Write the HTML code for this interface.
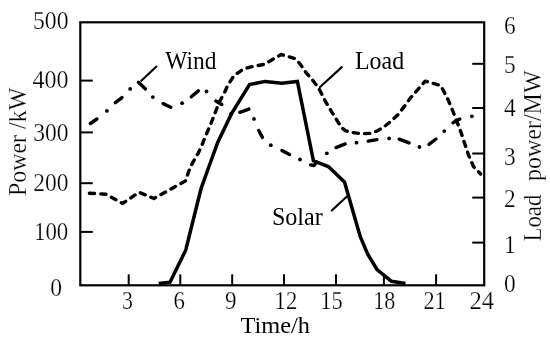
<!DOCTYPE html>
<html><head><meta charset="utf-8"><title>Power curves</title>
<style>html,body{margin:0;padding:0;background:#fff}svg{display:block}text{font-family:"Liberation Serif",serif;fill:#000}</style></head><body>
<svg width="550" height="339" viewBox="0 0 550 339">
<rect width="550" height="339" fill="#fff"/>
<rect x="80.3" y="22.3" width="403.9" height="263.0" fill="none" stroke="#000" stroke-width="2.2"/>
<g stroke="#000" stroke-width="2" fill="none">
<line x1="80.3" y1="80.6" x2="92.8" y2="80.6"/>
<line x1="80.3" y1="132.4" x2="92.8" y2="132.4"/>
<line x1="80.3" y1="183.2" x2="92.8" y2="183.2"/>
<line x1="80.3" y1="231.9" x2="92.8" y2="231.9"/>
<line x1="484.2" y1="63.8" x2="472.2" y2="63.8"/>
<line x1="484.2" y1="108" x2="472.2" y2="108"/>
<line x1="484.2" y1="153.5" x2="472.2" y2="153.5"/>
<line x1="484.2" y1="197.6" x2="472.2" y2="197.6"/>
<line x1="484.2" y1="242.6" x2="472.2" y2="242.6"/>
<line x1="128.7" y1="285.3" x2="128.7" y2="274.3"/>
<line x1="180.3" y1="285.3" x2="180.3" y2="274.3"/>
<line x1="232.2" y1="285.3" x2="232.2" y2="274.3"/>
<line x1="284" y1="285.3" x2="284" y2="274.3"/>
<line x1="336" y1="285.3" x2="336" y2="274.3"/>
<line x1="383.9" y1="285.3" x2="383.9" y2="274.3"/>
<line x1="436.1" y1="285.3" x2="436.1" y2="274.3"/>
</g>
<g stroke="#000" stroke-width="2.1" stroke-linecap="round" fill="none">
<line x1="156.4" y1="66.6" x2="141.3" y2="80.8"/>
<line x1="341.8" y1="67.1" x2="319.8" y2="87.2"/>
<line x1="331.8" y1="210.6" x2="346.6" y2="196.8"/>
</g>
<polyline points="158.8,283.6 170.0,282.2 185.7,250.2 198.2,200 201.4,187.6 207.7,170 217.6,142.7 231.4,113.9 249.5,84.5 265.3,81.4 281.6,83.2 297.4,81.4 313.4,160.8 328.3,166.6 344.5,182 360.2,236.5 367.6,254 377,269.5 391.5,281.3 405.5,283.4" fill="none" stroke="#000" stroke-width="3.5" stroke-linejoin="miter"/>
<polyline points="89.4,193.2 106,194.2 122.5,203.5 139,192.3 154,198.5 170,189.5 185.6,180.8 188.6,171.5 192,163.8 198.4,152.8 202.2,144.5 205.7,135.7 211.2,122.9 215.8,111 219.4,101.9 224.9,91.8 227.7,85.5 234,75.6 243.8,68.8 252.8,66.5 264,64.4 281.2,54.5 295.4,58.7 300.6,64.6 306,72.6 313.3,81 318.8,88.3 325.2,101 331.4,111.3 338,122 342,128 345.6,130.8 353,132.6 362,133.8 371,133.3 377.5,130.8 383.8,127 390.1,122 398.2,114.5 405.2,105.1 410.2,98.2 415.2,92.5 425.2,81.1 440.8,85.6 448.3,100.2 454.4,115 461.1,132.6 468.6,155.2 473.5,166.5 480.6,174" fill="none" stroke="#000" stroke-width="3.4" stroke-dasharray="5.2 6.2" stroke-linecap="round" stroke-linejoin="round"/>
<g stroke="#000" stroke-width="3.4" stroke-linecap="round">
<line x1="90.3" y1="123.5" x2="96.9" y2="119.0"/>
<line x1="115.4" y1="102.7" x2="122.0" y2="97.6"/>
<line x1="138.4" y1="82.2" x2="145.5" y2="88.9"/>
<line x1="163.1" y1="103.6" x2="170.8" y2="107.3"/>
<line x1="191.3" y1="96.8" x2="198.3" y2="90.9"/>
<line x1="215.8" y1="101.0" x2="221.8" y2="104.5"/>
<line x1="239.8" y1="112.3" x2="248.9" y2="109.1"/>
<line x1="258.7" y1="130.5" x2="262.4" y2="137.4"/>
<line x1="281.9" y1="150.5" x2="289.6" y2="154.5"/>
<line x1="336.0" y1="147.6" x2="345.2" y2="143.9"/>
<line x1="368.2" y1="141.2" x2="376.9" y2="139.6"/>
<line x1="399.2" y1="139.2" x2="409.1" y2="142.9"/>
<line x1="429.0" y1="144.4" x2="436.0" y2="139.0"/>
<line x1="453.0" y1="122.7" x2="459.8" y2="119.0"/>
<polyline points="310.6,164.9 314,165.6 316.6,162" fill="none" stroke-linejoin="round"/>
</g><g fill="#000">
<circle cx="106.9" cy="110.9" r="1.9"/>
<circle cx="130.2" cy="88.9" r="1.9"/>
<circle cx="152.8" cy="97.1" r="1.9"/>
<circle cx="182.1" cy="103.2" r="1.9"/>
<circle cx="206.5" cy="91.5" r="1.9"/>
<circle cx="231" cy="113.9" r="1.9"/>
<circle cx="254" cy="118.9" r="1.9"/>
<circle cx="270.8" cy="145.2" r="1.9"/>
<circle cx="300" cy="159.5" r="1.9"/>
<circle cx="326.8" cy="153.3" r="1.9"/>
<circle cx="356.5" cy="142.7" r="1.9"/>
<circle cx="389.1" cy="138.4" r="1.9"/>
<circle cx="419.4" cy="147" r="1.9"/>
<circle cx="444.3" cy="131.1" r="1.9"/>
<circle cx="471.9" cy="116.3" r="1.9"/>
</g>
<text x="33.0" y="28.9" font-size="25" textLength="35.6" lengthAdjust="spacingAndGlyphs" stroke="#fff" stroke-width="0.25">500</text>
<text x="32.6" y="88.0" font-size="25" textLength="36.0" lengthAdjust="spacingAndGlyphs" stroke="#fff" stroke-width="0.25">400</text>
<text x="33.2" y="141.2" font-size="25" textLength="35.3" lengthAdjust="spacingAndGlyphs" stroke="#fff" stroke-width="0.25">300</text>
<text x="33.2" y="190.9" font-size="25" textLength="35.3" lengthAdjust="spacingAndGlyphs" stroke="#fff" stroke-width="0.25">200</text>
<text x="34.0" y="240.0" font-size="25" textLength="34.3" lengthAdjust="spacingAndGlyphs" stroke="#fff" stroke-width="0.25">100</text>
<text x="50.2" y="296.4" font-size="25" textLength="11.8" lengthAdjust="spacingAndGlyphs" stroke="#fff" stroke-width="0.25">0</text>
<text x="504.0" y="33.7" font-size="25" textLength="11.7" lengthAdjust="spacingAndGlyphs" stroke="#fff" stroke-width="0.25">6</text>
<text x="504.0" y="73.4" font-size="25" textLength="11.7" lengthAdjust="spacingAndGlyphs" stroke="#fff" stroke-width="0.25">5</text>
<text x="504.0" y="115.5" font-size="25" textLength="11.7" lengthAdjust="spacingAndGlyphs" stroke="#fff" stroke-width="0.25">4</text>
<text x="504.0" y="164.6" font-size="25" textLength="11.7" lengthAdjust="spacingAndGlyphs" stroke="#fff" stroke-width="0.25">3</text>
<text x="504.0" y="206.9" font-size="25" textLength="11.7" lengthAdjust="spacingAndGlyphs" stroke="#fff" stroke-width="0.25">2</text>
<text x="504.0" y="253" font-size="25" textLength="11.7" lengthAdjust="spacingAndGlyphs" stroke="#fff" stroke-width="0.25">1</text>
<text x="504.0" y="291.7" font-size="25" textLength="11.7" lengthAdjust="spacingAndGlyphs" stroke="#fff" stroke-width="0.25">0</text>
<text x="122.0" y="308.7" font-size="25" textLength="10.9" lengthAdjust="spacingAndGlyphs" stroke="#fff" stroke-width="0.25">3</text>
<text x="173.4" y="308.7" font-size="25" textLength="11.4" lengthAdjust="spacingAndGlyphs" stroke="#fff" stroke-width="0.25">6</text>
<text x="225.10000000000002" y="308.7" font-size="25" textLength="11.5" lengthAdjust="spacingAndGlyphs" stroke="#fff" stroke-width="0.25">9</text>
<text x="274.6" y="308.7" font-size="25" textLength="22.7" lengthAdjust="spacingAndGlyphs" stroke="#fff" stroke-width="0.25">12</text>
<text x="320.3" y="308.7" font-size="25" textLength="22.4" lengthAdjust="spacingAndGlyphs" stroke="#fff" stroke-width="0.25">15</text>
<text x="373.2" y="308.7" font-size="25" textLength="22.1" lengthAdjust="spacingAndGlyphs" stroke="#fff" stroke-width="0.25">18</text>
<text x="423.40000000000003" y="308.7" font-size="25" textLength="22.3" lengthAdjust="spacingAndGlyphs" stroke="#fff" stroke-width="0.25">21</text>
<text x="469.5" y="308.7" font-size="25" textLength="24.7" lengthAdjust="spacingAndGlyphs" stroke="#fff" stroke-width="0.25">24</text>
<text x="240.6" y="333.2" font-size="24" textLength="69.4" lengthAdjust="spacingAndGlyphs">Time/h</text>
<text x="165.3" y="68.5" font-size="24.4" textLength="51.1" lengthAdjust="spacingAndGlyphs">Wind</text>
<text x="355" y="68.8" font-size="24.4" textLength="49.1" lengthAdjust="spacingAndGlyphs">Load</text>
<text x="271.9" y="225.3" font-size="24.4" textLength="50.9" lengthAdjust="spacingAndGlyphs">Solar</text>
<text transform="translate(26.2,196.0) rotate(-90)" font-size="25" textLength="108.2" lengthAdjust="spacingAndGlyphs" stroke="#fff" stroke-width="0.25">Power /kW</text>
<text transform="translate(540.5,241.5) rotate(-90)" font-size="25" textLength="46.9" lengthAdjust="spacingAndGlyphs" stroke="#fff" stroke-width="0.25">Load</text>
<text transform="translate(540.5,180.9) rotate(-90)" font-size="25" textLength="110.4" lengthAdjust="spacingAndGlyphs" stroke="#fff" stroke-width="0.25">power/MW</text>
</svg></body></html>
